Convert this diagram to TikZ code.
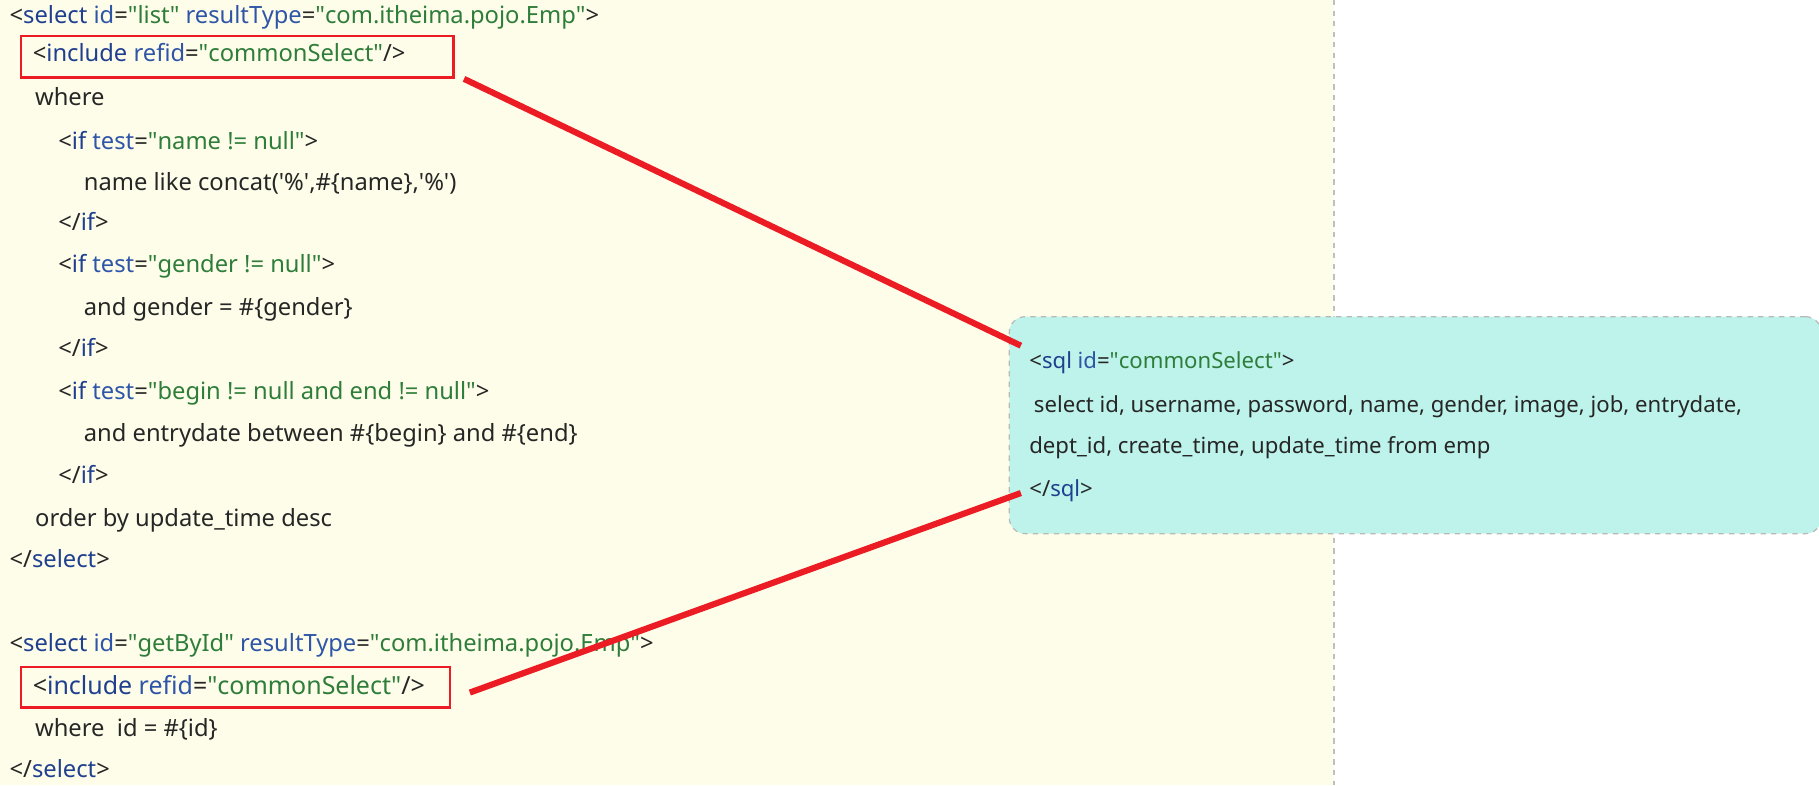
\documentclass[tikz,border=0pt]{standalone}
\usepackage{fontspec}
\setmainfont{Noto Sans}
\definecolor{bgy}{HTML}{FEFDE9}
\definecolor{sqlbg}{HTML}{BDF3EA}
\definecolor{tagc}{HTML}{1F3F8F}
\definecolor{attc}{HTML}{2F55A8}
\definecolor{valc}{HTML}{2E7D3A}
\definecolor{redl}{HTML}{EC1C24}
\newcommand{\xtag}[1]{\textcolor{tagc}{#1}}
\newcommand{\xatt}[1]{\textcolor{attc}{#1}}
\newcommand{\xval}[1]{\textcolor{valc}{\textquotedbl#1\textquotedbl}}
\newcommand{\sq}{\textquotesingle}
\begin{document}
\begin{tikzpicture}[x=0.0232cm,y=-0.0232cm,
  code/.style={anchor=base west,inner sep=0pt,font=\fontsize{13.5}{16}\selectfont,text=black!85},
  sqlt/.style={code,font=\fontsize{12.6}{15}\selectfont},
  rbox/.style={draw=redl,line width=1.5pt},
  conn/.style={draw=redl,line width=3.5pt}]
\useasboundingbox (0,0) rectangle (1568,677);
\fill[white] (0,0) rectangle (1568,677);
\fill[bgy] (0,0) rectangle (1150,677);
\draw[gray!50,dashed,line width=0.7pt] (1150,0) -- (1150,677);
% code lines
\node[code] (l1) at (8,20) {<\xtag{select} \xatt{id}=\xval{list} \xatt{resultType}=\xval{com.itheima.pojo.Emp}>};
\node[code] (l2) at (28,53) {<\xtag{include} \xatt{refid}=\xval{commonSelect}/>};
\node[code] (l3) at (30,91) {where};
\node[code] (l4) at (50,129) {<\xtag{if} \xatt{test}=\xval{name != null}>};
\node[code] (l5) at (72,164) {name like concat(\sq\%\sq,\#\{name\},\sq\%\sq)};
\node[code] (l6) at (50,199) {</\xtag{if}>};
\node[code] (l7) at (50,235) {<\xtag{if} \xatt{test}=\xval{gender != null}>};
\node[code] (l8) at (72,272) {and gender = \#\{gender\}};
\node[code] (l9) at (50,307) {</\xtag{if}>};
\node[code] (l10) at (50,344) {<\xtag{if} \xatt{test}=\xval{begin != null and end != null}>};
\node[code] (l11) at (72,381) {and entrydate between \#\{begin\} and \#\{end\}};
\node[code] (l12) at (50,417) {</\xtag{if}>};
\node[code] (l13) at (30,454) {order by update\_time desc};
\node[code] (l14) at (8,489) {</\xtag{select}>};
\node[code] (l15) at (8,562) {<\xtag{select} \xatt{id}=\xval{getById} \xatt{resultType}=\xval{com.itheima.pojo.Emp}>};
\node[code,font=\fontsize{14.2}{16}\selectfont] (l16) at (28,599) {<\xtag{include} \xatt{refid}=\xval{commonSelect}/>};
\node[code] (l17) at (30,635) {where\ \ id = \#\{id\}};
\node[code] (l18) at (8,670) {</\xtag{select}>};
% red boxes
\node[rbox,minimum width=373*0.0232cm,minimum height=36*0.0232cm] (b1) at (204.5,49) {};
\node[rbox,minimum width=370*0.0232cm,minimum height=35*0.0232cm] (b2) at (203,592.5) {};
% sql box
\node[draw=gray!55,dashed,fill=sqlbg,rounded corners=9pt,minimum width=700*0.0232cm,minimum height=187*0.0232cm,line width=0.7pt] (sql) at (1220,366.5) {};
\node[sqlt] (s1) at (887,318) {<\xtag{sql} \xatt{id}=\xval{commonSelect}>};
\node[sqlt] (s2) at (891,356) {select id, username, password, name, gender, image, job, entrydate,};
\node[sqlt] (s3) at (887,391) {dept\_id, create\_time, update\_time from emp};
\node[sqlt] (s4) at (887,428) {</\xtag{sql}>};
% connectors
\coordinate (c1a) at (400,68);
\coordinate (c1b) at (880,298);
\coordinate (c2a) at (405,597);
\coordinate (c2b) at (880,425);
\draw[conn] (c1a) -- (c1b);
\draw[conn] (c2a) -- (c2b);
\end{tikzpicture}
\end{document}
